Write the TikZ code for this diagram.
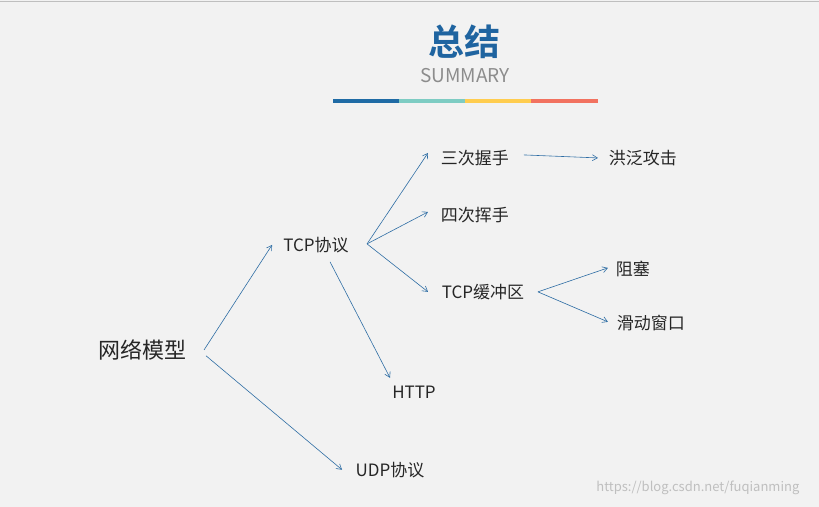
\documentclass[tikz,border=0pt]{standalone}
\usepackage{fontspec}
\setmainfont{Noto Sans CJK SC}[BoldFont={Noto Sans CJK SC Bold}]
\usetikzlibrary{arrows.meta}
\definecolor{bg}{HTML}{F2F2F2}
\definecolor{ttl}{HTML}{1F64A0}
\definecolor{cA}{HTML}{1F6BA5}
\definecolor{cB}{HTML}{7ECCC3}
\definecolor{cC}{HTML}{FFCD4F}
\definecolor{cD}{HTML}{F27260}
\definecolor{ln}{HTML}{2E6DA4}
\begin{document}
\begin{tikzpicture}[x=1pt,y=-1pt,
  lbl/.style={font=\fontsize{17}{19}\selectfont,text=black!85,inner sep=1pt},
  arr/.style={ln,line width=0.6pt,-{Straight Barb[length=5pt,width=6pt]}}]
\fill[bg] (0,0) rectangle (819,507);
\draw[gray!50] (0,1) -- (819,1);
\node (t) at (465,42) {\fontsize{36}{40}\selectfont\bfseries\color{ttl}总结};
\node (s) at (465,76) {\fontsize{19}{21}\selectfont\color{black!45}SUMMARY};
\foreach \a/\b/\c in {333/399/cA,399/465/cB,465/531/cC,531/598/cD}
  \fill[\c] (\a,99.5) rectangle (\b,103.5);
\node[lbl,font=\fontsize{22}{25}\selectfont] (w) at (142,350) {网络模型};
\node[lbl] (tcp) at (316,245) {TCP协议};
\node[lbl] (s3) at (475,158) {三次握手};
\node[lbl] (fl) at (643,158) {洪泛攻击};
\node[lbl] (s4) at (475,215) {四次挥手};
\node[lbl] (buf) at (483,292) {TCP缓冲区};
\node[lbl] (zs) at (633,269) {阻塞};
\node[lbl] (hd) at (651,323) {滑动窗口};
\node[lbl] (http) at (414,392) {HTTP};
\node[lbl] (udp) at (390,470) {UDP协议};
\node[font=\fontsize{13}{15}\selectfont,text=black!25] (wm) at (698,488) {https://blog.csdn.net/fuqianming};
\coordinate (w1) at (204,350); \coordinate (w2) at (206,356);
\coordinate (t0) at (367,244); \coordinate (t1) at (330,262);
\coordinate (b0) at (538,292);
\draw[arr] (w1) -- (272,245);
\draw[arr] (w2) -- (342,470);
\draw[arr] (t1) -- (390,378);
\draw[arr] (t0) -- (428,153);
\draw[arr] (t0) -- (428,212);
\draw[arr] (t0) -- (428,292);
\draw[arr] (524,155) -- (598,158);
\draw[arr] (b0) -- (608,268);
\draw[arr] (b0) -- (608,322);
\end{tikzpicture}
\end{document}
